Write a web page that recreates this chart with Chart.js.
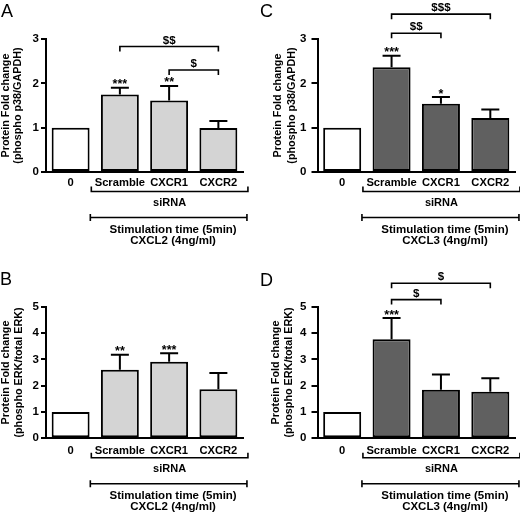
<!DOCTYPE html>
<html>
<head>
<meta charset="utf-8">
<script src="https://cdn.jsdelivr.net/npm/chart.js@4.4.1/dist/chart.umd.min.js"></script>
<style>
  body { margin: 0; background: #fff; }
  #wrap { position: relative; width: 520px; height: 514px; overflow: hidden; }
  canvas { position: absolute; }
</style>
</head>
<body>
<div id="wrap">
  <canvas id="cA" width="260" height="254" style="left:0;top:0;width:260px;height:254px"></canvas>
  <canvas id="cC" width="260" height="254" style="left:260px;top:0;width:260px;height:254px"></canvas>
  <canvas id="cB" width="260" height="260" style="left:0;top:254px;width:260px;height:260px"></canvas>
  <canvas id="cD" width="260" height="260" style="left:260px;top:254px;width:260px;height:260px"></canvas>
</div>
<script>
// data

const categories = ['0', 'Scramble', 'CXCR1', 'CXCR2'];

// A: phospho p38 / GAPDH, CXCL2
const p38Cxcl2 = [1, 1.75, 1.61, 0.99];
const p38Cxcl2Sem = [0, 0.15, 0.33, 0.16];
const p38Cxcl2Stars = ['', '***', '**', ''];
const p38Cxcl2Cmp = [[1, 3, '$$'], [2, 3, '$']];

// C: phospho p38 / GAPDH, CXCL3
const p38Cxcl3 = [1, 2.36, 1.54, 1.22];
const p38Cxcl3Sem = [0, 0.26, 0.15, 0.19];
const p38Cxcl3Stars = ['', '***', '*', ''];
const p38Cxcl3Cmp = [[1, 3, '$$$'], [1, 2, '$$']];

// B: phospho ERK / total ERK, CXCL2
const erkCxcl2 = [1, 2.6, 2.91, 1.86];
const erkCxcl2Sem = [0, 0.57, 0.32, 0.62];
const erkCxcl2Stars = ['', '**', '***', ''];
const erkCxcl2Cmp = [];

// D: phospho ERK / total ERK, CXCL3
const erkCxcl3 = [1, 3.76, 1.84, 1.77];
const erkCxcl3Sem = [0, 0.81, 0.58, 0.51];
const erkCxcl3Stars = ['', '***', '', ''];
const erkCxcl3Cmp = [[1, 3, '$'], [1, 2, '$']];

const p38Title = ['Protein Fold change', '(phospho p38/GAPDH)'];
const erkTitle = ['Protein Fold change', '(phospho ERK/total ERK)'];


const FONT = '"Liberation Sans", Arial, Helvetica, sans-serif';
Chart.defaults.font.family = FONT;
Chart.defaults.color = '#000';

function extrasPlugin(cfg) {
  return {
    id: 'extras' + cfg.letter,
    afterDatasetsDraw(chart) {
      const ctx = chart.ctx;
      const x = chart.scales.x, y = chart.scales.y;
      const area = chart.chartArea;
      const px = i => x.getPixelForValue(i);
      const step = px(1) - px(0);
      ctx.save();
      ctx.strokeStyle = '#000';
      ctx.fillStyle = '#000';
      ctx.textAlign = 'center';

      // error bars (upper only) and stars
      cfg.values.forEach((v, i) => {
        const cx = px(i);
        const yTop = y.getPixelForValue(v);
        const yErr = y.getPixelForValue(v + cfg.sem[i]);
        if (cfg.sem[i] > 0) {
          ctx.lineWidth = 2;
          ctx.beginPath();
          ctx.moveTo(cx, yTop);
          ctx.lineTo(cx, yErr);
          ctx.moveTo(cx - 9, yErr);
          ctx.lineTo(cx + 9, yErr);
          ctx.stroke();
        }
        if (cfg.stars[i]) {
          ctx.font = 'bold 12.5px ' + FONT;
          ctx.textBaseline = 'alphabetic';
          ctx.fillText(cfg.stars[i], cx, yErr + 0.5);
        }
      });

      // comparison brackets
      cfg.cmp.forEach((c, k) => {
        const x1 = px(c[0]), x2 = px(c[1]);
        const yy = y.getPixelForValue(cfg.cmpLevels[k]);
        ctx.lineWidth = 1.6;
        ctx.beginPath();
        ctx.moveTo(x1, yy + 5);
        ctx.lineTo(x1, yy);
        ctx.lineTo(x2, yy);
        ctx.lineTo(x2, yy + 5);
        ctx.stroke();
        ctx.font = 'bold 11.5px ' + FONT;
        ctx.textBaseline = 'alphabetic';
        ctx.fillText(c[2], (x1 + x2) / 2, yy - 3);
      });

      // siRNA bracket under the axis
      const b = area.bottom;
      const s1 = px(1) - 0.58 * step, s2 = px(3) + 0.6 * step;
      ctx.lineWidth = 1.6;
      ctx.beginPath();
      ctx.moveTo(s1, b + 14.5);
      ctx.lineTo(s1, b + 19.5);
      ctx.lineTo(s2, b + 19.5);
      ctx.lineTo(s2, b + 14.5);
      ctx.stroke();
      ctx.font = 'bold 11px ' + FONT;
      ctx.textBaseline = 'middle';
      ctx.fillText('siRNA', (s1 + s2) / 2, b + 30.5);

      // stimulation line
      const t1 = px(1) - 0.6 * step, t2 = px(3) + 0.58 * step;
      const ty = b + 45.5;
      ctx.beginPath();
      ctx.moveTo(t1, ty); ctx.lineTo(t2, ty);
      ctx.moveTo(t1, ty - 3.5); ctx.lineTo(t1, ty + 3.5);
      ctx.moveTo(t2, ty - 3.5); ctx.lineTo(t2, ty + 3.5);
      ctx.stroke();
      ctx.font = 'bold 11.5px ' + FONT;
      ctx.fillText('Stimulation time (5min)', px(2) + 4, b + 57.5);
      ctx.fillText(cfg.stim, px(2) + 4, b + 68.5);

      // panel letter
      ctx.font = '18px ' + FONT;
      ctx.textAlign = 'left';
      ctx.textBaseline = 'alphabetic';
      ctx.fillText(cfg.letter, cfg.letterPos[0], cfg.letterPos[1]);
      ctx.restore();
    }
  };
}

function makePanel(cfg) {
  const fill = cfg.fill;
  new Chart(document.getElementById(cfg.canvas), {
    type: 'bar',
    data: {
      labels: categories,
      datasets: [{
        data: cfg.values,
        backgroundColor: ['#ffffff', fill, fill, fill],
        borderColor: '#000',
        borderWidth: 2,
        borderSkipped: false,
        barPercentage: 0.77,
        categoryPercentage: 1
      }]
    },
    options: {
      responsive: false,
      animation: false,
      events: [],
      layout: { padding: { left: 0, top: cfg.top, right: cfg.right, bottom: 0 } },
      plugins: { legend: { display: false }, tooltip: { enabled: false } },
      scales: {
        x: {
          grid: { display: false, drawTicks: false },
          border: { display: true, width: 2, color: '#000' },
          ticks: { padding: cfg.xPad, color: '#000', maxRotation: 0, autoSkip: false,
                   font: { size: 11.2, weight: 'bold' } },
          afterFit: s => { s.height = cfg.xHeight; }
        },
        y: {
          min: 0,
          max: cfg.yMax,
          ticks: { stepSize: 1, padding: cfg.tickPad, color: '#000', font: { size: 11.5, weight: 'bold' } },
          grid: { display: true, drawOnChartArea: false, drawTicks: true, tickLength: cfg.tickLen,
                  lineWidth: 2, color: '#000' },
          border: { display: true, width: 2, color: '#000' },
          title: { display: true, text: cfg.yTitle, color: '#000',
                   font: { size: 10.8, weight: 'bold', lineHeight: cfg.titleLH },
                   padding: { top: cfg.titlePad, bottom: 0 } },
          afterFit: s => { s.width = cfg.axisW; }
        }
      }
    },
    plugins: [extrasPlugin(cfg)]
  });
}

makePanel({
  canvas: 'cA', letter: 'A', letterPos: [1, 17],
  values: p38Cxcl2, sem: p38Cxcl2Sem, stars: p38Cxcl2Stars,
  cmp: p38Cxcl2Cmp, cmpLevels: [2.83, 2.3],
  yMax: 3, yTitle: p38Title, stim: 'CXCL2 (4ng/ml)', fill: '#d4d4d4',
  top: 39, right: 17, xHeight: 82, xPad: 4,
  axisW: 46, tickLen: 5, tickPad: 2, titleLH: 1.1, titlePad: 0.5
});

makePanel({
  canvas: 'cC', letter: 'C', letterPos: [0, 17],
  values: p38Cxcl3, sem: p38Cxcl3Sem, stars: p38Cxcl3Stars,
  cmp: p38Cxcl3Cmp, cmpLevels: [3.56, 3.13],
  yMax: 3, yTitle: p38Title, stim: 'CXCL3 (4ng/ml)', fill: '#606060',
  top: 39, right: 5, xHeight: 82, xPad: 4,
  axisW: 57.5, tickLen: 6, tickPad: 5, titleLH: 1.3, titlePad: 11
});

makePanel({
  canvas: 'cB', letter: 'B', letterPos: [0, 30.5],
  values: erkCxcl2, sem: erkCxcl2Sem, stars: erkCxcl2Stars,
  cmp: erkCxcl2Cmp, cmpLevels: [],
  yMax: 5, yTitle: erkTitle, stim: 'CXCL2 (4ng/ml)', fill: '#d4d4d4',
  top: 52.7, right: 17, xHeight: 75.7, xPad: 6,
  axisW: 46, tickLen: 5, tickPad: 2, titleLH: 1.15, titlePad: 0
});

makePanel({
  canvas: 'cD', letter: 'D', letterPos: [0, 32],
  values: erkCxcl3, sem: erkCxcl3Sem, stars: erkCxcl3Stars,
  cmp: erkCxcl3Cmp, cmpLevels: [5.89, 5.27],
  yMax: 5, yTitle: erkTitle, stim: 'CXCL3 (4ng/ml)', fill: '#606060',
  top: 52.7, right: 5, xHeight: 75.7, xPad: 6,
  axisW: 57.5, tickLen: 6, tickPad: 5, titleLH: 1.15, titlePad: 10
});
</script>
</body>
</html>
